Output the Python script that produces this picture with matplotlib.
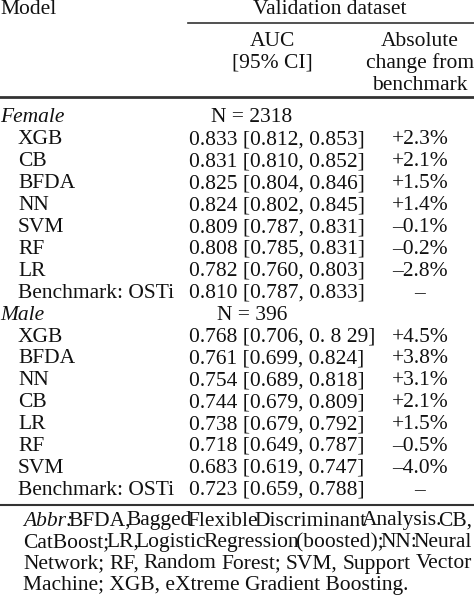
import matplotlib
matplotlib.use("Agg")
import matplotlib.pyplot as plt

female_models = ["XGB", "CB", "BFDA", "NN", "SVM", "RF", "LR", "Benchmark: OSTi"]
female_auc = ["0.833 [0.812, 0.853]", "0.831 [0.810, 0.852]", "0.825 [0.804, 0.846]",
              "0.824 [0.802, 0.845]", "0.809 [0.787, 0.831]", "0.808 [0.785, 0.831]",
              "0.782 [0.760, 0.803]", "0.810 [0.787, 0.833]"]
female_change = ["+2.3%", "+2.1%", "+1.5%", "+1.4%", "\u20130.1%", "\u20130.2%", "\u20132.8%", "\u2013"]
male_models = ["XGB", "BFDA", "NN", "CB", "LR", "RF", "SVM", "Benchmark: OSTi"]
male_auc = ["0.768 [0.706, 0. 8 29]", "0.761 [0.699, 0.824]", "0.754 [0.689, 0.818]",
            "0.744 [0.679, 0.809]", "0.738 [0.679, 0.792]", "0.718 [0.649, 0.787]",
            "0.683 [0.619, 0.747]", "0.723 [0.659, 0.788]"]
male_change = ["+4.5%", "+3.8%", "+3.1%", "+2.1%", "+1.5%", "\u20130.5%", "\u20134.0%", "\u2013"]
foot = [["Abbr:", "BFDA,", "Bagged", "Flexible", "Discriminant", "Analysis.", "CB,"],
        ["CatBoost;", "LR,", "Logistic", "Regression", "(boosted);", "NN:", "Neural"],
        ["Network;", "RF,", "Random", "Forest;", "SVM,", "Support", "Vector"],
        ["Machine; XGB, eXtreme Gradient Boosting."]]

W, H = 474, 595
fig = plt.figure(figsize=(W/100, H/100), dpi=100)
ax = fig.add_axes([0, 0, 1, 1])
ax.set_xlim(0, W); ax.set_ylim(H, 0); ax.axis("off")
FS = 15.5
kw = dict(fontsize=FS, family="Liberation Serif", color="#111111", va="center")

ax.text(0, 9, "Model", ha="left", **kw)
ax.text(330, 9, "Validation dataset", ha="center", **kw)
ax.plot([188, 474], [23, 23], color="#333333", lw=1.2)
ax.text(272, 41, "AUC", ha="center", **kw)
ax.text(272, 63, "[95% CI]", ha="center", **kw)
ax.text(420, 41, "Absolute", ha="center", **kw)
ax.text(420, 63, "change from", ha="center", **kw)
ax.text(420, 85, "benchmark", ha="center", **kw)
ax.plot([0, 474], [97, 97], color="#333333", lw=2)

y0, dy = 118, 21.9
rows = [("Female", "N = 2318", "", True)]
rows += [(m, a, c, False) for m, a, c in zip(female_models, female_auc, female_change)]
rows += [("Male", "N = 396", "", True)]
rows += [(m, a, c, False) for m, a, c in zip(male_models, male_auc, male_change)]
for i, (m, a, c, grp) in enumerate(rows):
    y = y0 + i*dy
    if grp:
        ax.text(0, y, m, ha="left", style="italic", **kw)
        ax.text(252, y, a, ha="center", **kw)
    else:
        ax.text(18, y, m, ha="left", **kw)
        ax.text(189, y, a, ha="left", **kw)
        ax.text(420, y, c, ha="center", **kw)
ax.plot([0, 474], [505, 505], color="#333333", lw=1.5)

fig.canvas.draw()
r = fig.canvas.get_renderer()
x0, x1 = 23, 472
for j, words in enumerate(foot):
    y = 521 + j*21.5
    if len(words) == 1:
        ax.text(x0, y, words[0], ha="left", **kw)
        continue
    ts = [ax.text(0, y, w, ha="left", style=("italic" if w == "Abbr:" else "normal"), **kw) for w in words]
    ws = [t.get_window_extent(r).width for t in ts]
    gap = (x1 - x0 - sum(ws)) / (len(ws) - 1)
    x = x0
    for t, w in zip(ts, ws):
        t.set_x(x); x += w + gap

fig.savefig("out.png", dpi=100)
